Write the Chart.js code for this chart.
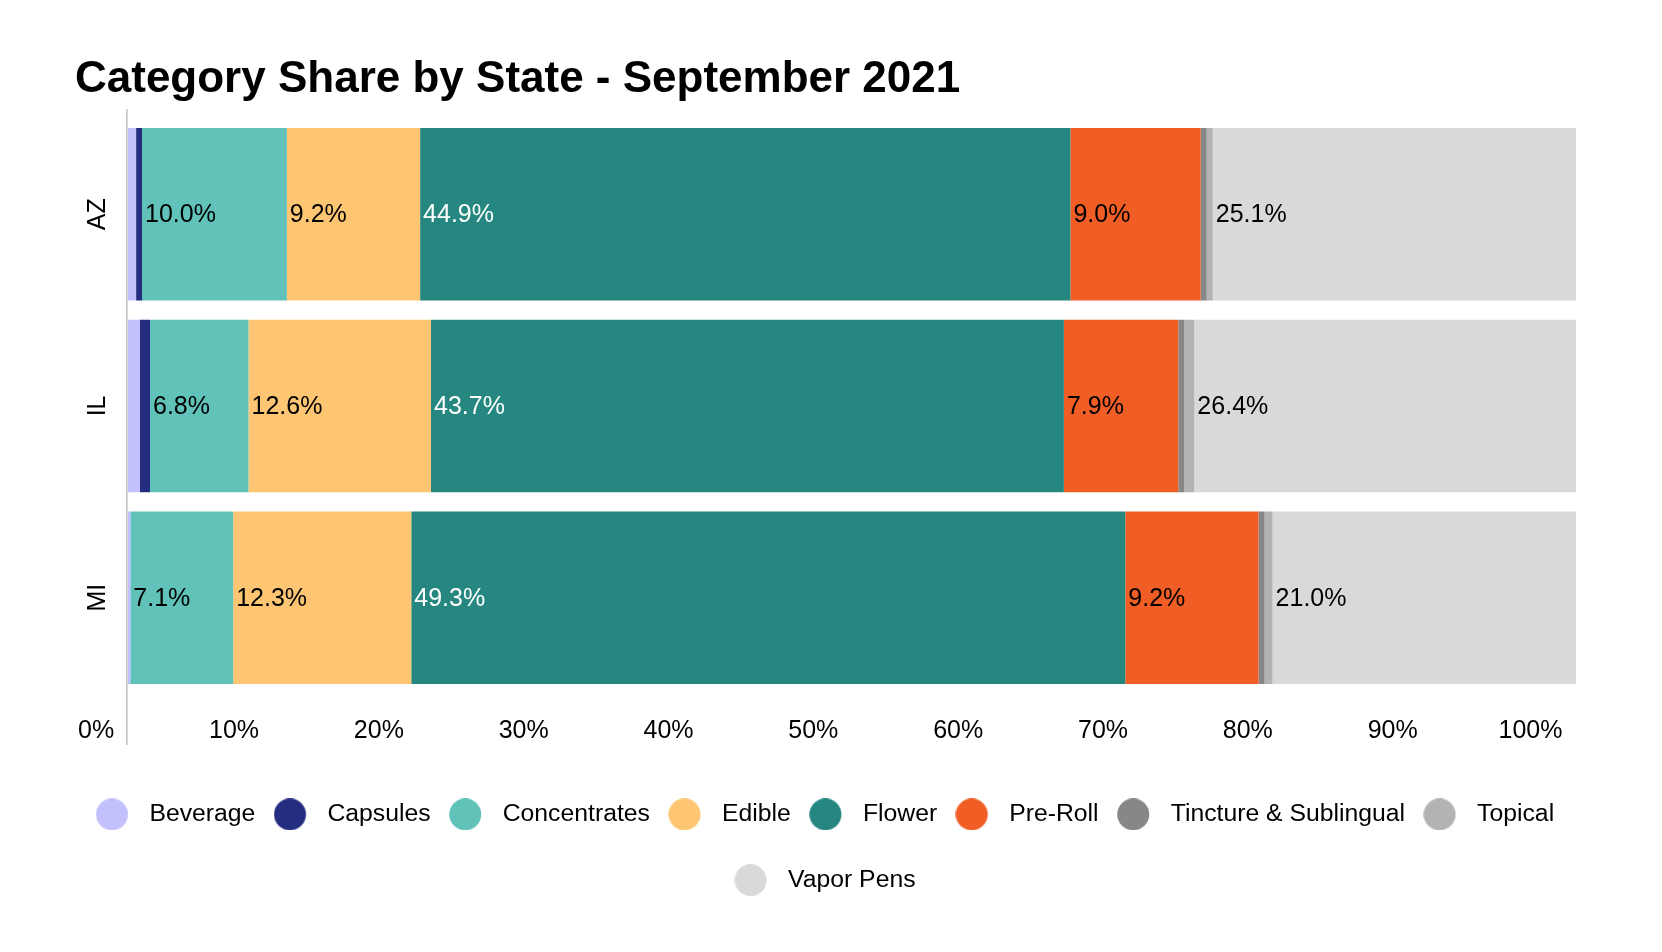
<!DOCTYPE html>
<html>
<head>
<meta charset="utf-8" />
<title>Category Share by State - September 2021</title>
<script src="https://cdn.jsdelivr.net/npm/chart.js"></script>
<style>
  body { margin: 0; background: #fff; }
  canvas { display: block; }
</style>
</head>
<body>
<canvas id="shareChart" width="1662" height="952"></canvas>
<script>
// share of sales (%) per state
const states = ['AZ', 'IL', 'MI'];
const categories = ['Beverage', 'Capsules', 'Concentrates', 'Edible', 'Flower', 'Pre-Roll', 'Tincture & Sublingual', 'Topical', 'Vapor Pens'];
const beverage     = [0.58, 0.85, 0.18];
const capsules     = [0.41, 0.69, 0];
const concentrates = [10.0, 6.8, 7.1];
const edible       = [9.2, 12.6, 12.3];
const flower       = [44.9, 43.7, 49.3];
const preRoll      = [9.0, 7.9, 9.2];
const tincture     = [0.41, 0.42, 0.42];
const topical      = [0.42, 0.69, 0.55];
const vaporPens    = [25.1, 26.4, 21.0];
const xTickValues  = [0, 10, 20, 30, 40, 50, 60, 70, 80, 90, 100];

const seriesValues = [beverage, capsules, concentrates, edible, flower, preRoll, tincture, topical, vaporPens];
const colors = ['#C3C0FE', '#252D80', '#60C2B9', '#FEC672', '#268780', '#F15E25', '#878787', '#B3B3B3', '#D9D9D9'];

Chart.defaults.font.family = '"Liberation Sans", Arial, sans-serif';
Chart.defaults.color = '#000';

// round legend marker, drawn a bit left of the box so spacing matches
function legendDot(color) {
  const c = document.createElement('canvas');
  c.width = 64; c.height = 32;
  const g = c.getContext('2d');
  g.fillStyle = color;
  g.beginPath();
  g.arc(16.25, 16, 16, 0, Math.PI * 2);
  g.fill();
  return c;
}
const dots = colors.map(legendDot);

const axisLine = {
  id: 'axisLine',
  beforeDatasetsDraw(chart) {
    const ctx = chart.ctx, x = chart.chartArea.left - 0.85;
    ctx.save();
    ctx.strokeStyle = '#c8c8c8';
    ctx.lineWidth = 1.7;
    ctx.beginPath();
    ctx.moveTo(x, 109);
    ctx.lineTo(x, 745);
    ctx.stroke();
    ctx.restore();
  }
};

const stateLabels = {
  id: 'stateLabels',
  afterDraw(chart) {
    const ctx = chart.ctx, y = chart.scales.y;
    ctx.save();
    ctx.font = '25px "Liberation Sans", Arial, sans-serif';
    ctx.fillStyle = '#000';
    ctx.textAlign = 'center';
    ctx.textBaseline = 'middle';
    states.forEach((s, i) => {
      ctx.save();
      ctx.translate(98, y.getPixelForTick(i));
      ctx.rotate(-Math.PI / 2);
      ctx.fillText(s, 0, 0);
      ctx.restore();
    });
    ctx.restore();
  }
};

const barLabels = {
  id: 'barLabels',
  afterDatasetsDraw(chart) {
    const ctx = chart.ctx;
    ctx.save();
    ctx.font = '25px "Liberation Sans", Arial, sans-serif';
    ctx.textAlign = 'left';
    ctx.textBaseline = 'middle';
    chart.data.datasets.forEach((ds, di) => {
      chart.getDatasetMeta(di).data.forEach((bar, i) => {
        const v = ds.data[i];
        if (v < 5) return;
        ctx.fillStyle = ds.label === 'Flower' ? '#fff' : '#000';
        ctx.fillText(v.toFixed(1) + '%', bar.base + 3, bar.y + 1);
      });
    });
    ctx.restore();
  }
};

new Chart(document.getElementById('shareChart'), {
  type: 'bar',
  data: {
    labels: states,
    datasets: categories.map((name, i) => ({
      label: name,
      data: seriesValues[i],
      backgroundColor: colors[i],
      borderWidth: 0,
      barPercentage: 0.9,
      categoryPercentage: 1
    }))
  },
  options: {
    indexAxis: 'y',
    responsive: false,
    animation: false,
    layout: { padding: { top: 53, bottom: 49.5, left: 75, right: 64.5 } },
    scales: {
      x: {
        stacked: true,
        min: 0,
        max: 100,
        grid: { display: false },
        border: { display: false },
        afterBuildTicks: s => { s.ticks = xTickValues.map(v => ({ value: v })); },
        afterFit: s => { s.height = 67.5; },
        ticks: {
          callback: v => v + '%',
          font: { size: 25 },
          color: '#000',
          align: 'end',
          labelOffset: -13.5,
          padding: 15,
          maxRotation: 0,
          autoSkip: false
        }
      },
      y: {
        stacked: true,
        grid: { display: false },
        border: { display: false },
        ticks: { display: false },
        afterFit: s => { s.width = 52.7; }
      },
      yRight: {
        type: 'category',
        position: 'right',
        grid: { display: false },
        border: { display: false },
        ticks: { display: false },
        afterFit: s => { s.width = 21.5; }
      }
    },
    plugins: {
      title: {
        display: true,
        text: 'Category Share by State - September 2021',
        align: 'start',
        color: '#000',
        font: { size: 44, weight: 'bold' },
        padding: { top: 0, bottom: 12.6 }
      },
      legend: {
        position: 'bottom',
        labels: {
          usePointStyle: true,
          boxWidth: 18.7,
          boxHeight: 24.75,
          padding: 41,
          color: '#000',
          font: { size: 24.75 },
          generateLabels: chart =>
            Chart.defaults.plugins.legend.labels.generateLabels(chart)
              .map(item => ({ ...item, pointStyle: dots[item.datasetIndex] }))
        }
      },
      tooltip: { enabled: false }
    }
  },
  plugins: [axisLine, stateLabels, barLabels]
});
</script>
</body>
</html>
